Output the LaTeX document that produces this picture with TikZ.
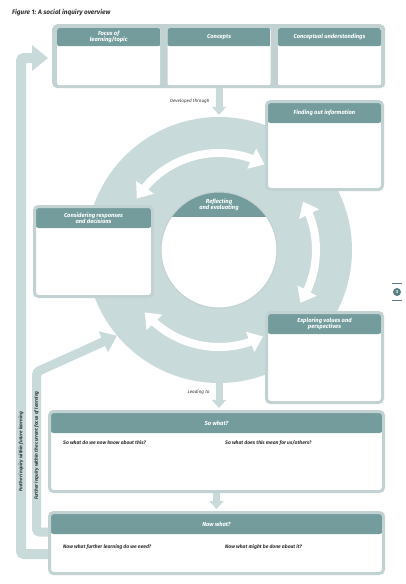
\documentclass[tikz,border=0pt]{standalone}
\usepackage{fontspec}
\setmainfont{Fira Sans}
\usepackage{tikz}
\usetikzlibrary{calc}
\usetikzlibrary{positioning}
\usetikzlibrary{arrows.meta}
\usetikzlibrary{bending}
\usetikzlibrary{backgrounds}

\definecolor{ringgrey}{HTML}{C9DADB}
\definecolor{framegrey}{HTML}{C2D1D2}
\definecolor{headteal}{HTML}{749C9D}
\definecolor{inkgrey}{HTML}{333333}
\definecolor{markteal}{HTML}{557F82}

\tikzset{
    figtitle/.style={anchor=west, text=inkgrey, inner sep=0pt,
        font=\fontsize{6.5}{7}\selectfont\bfseries\itshape},
    headtext/.style={text=white, align=center, inner sep=0pt,
        font=\fontsize{5.8}{6.4}\selectfont\bfseries\itshape},
    note/.style={text=inkgrey, inner sep=0pt,
        font=\fontsize{5}{6}\selectfont\bfseries\itshape},
    smallnote/.style={text=inkgrey, inner sep=0pt,
        font=\fontsize{4.6}{5}\selectfont\itshape},
    bartext/.style={text=inkgrey, inner sep=0pt,
        font=\fontsize{4.8}{5}\selectfont\bfseries\itshape},
    tray/.style={fill=framegrey, rounded corners=5pt, anchor=north west,
        inner sep=0pt, minimum width=333pt, minimum height=64pt},
    topbox/.style={fill=white, rounded corners=2pt, anchor=north west,
        inner sep=0pt, minimum width=103pt, minimum height=57pt,
        path picture={\fill[headteal] (path picture bounding box.north west)
            rectangle ([yshift=-18pt]path picture bounding box.north east);}},
    boxed/.style={draw=framegrey, line width=3pt, fill=white,
        rounded corners=4pt, anchor=north west, inner sep=0pt,
        path picture={\fill[headteal] (path picture bounding box.north west)
            rectangle ([yshift=-21.5pt]path picture bounding box.north east);}},
    ringdisc/.style={circle, fill=ringgrey, inner sep=0pt, minimum size=266pt},
    hubdisc/.style={circle, fill=white, draw=framegrey, line width=1pt,
        inner sep=0pt, minimum size=116pt,
        path picture={\fill[headteal] (path picture bounding box.north west)
            rectangle ([yshift=-25pt]path picture bounding box.north east);}},
    swirl/.style={draw=white, line width=8pt,
        {Triangle[width=21pt,length=14pt]}-{Triangle[width=21pt,length=14pt]}},
    flow/.style={draw=ringgrey, line width=7pt,
        -{Triangle[width=14pt,length=8pt]}, shorten >=2pt},
    outerloop/.style={draw=ringgrey, line width=10pt, rounded corners=3pt,
        -{Triangle[width=25pt,length=16pt]}, shorten >=4pt},
    innerloop/.style={draw=ringgrey, line width=9pt, rounded corners=3pt,
        -{Triangle[width=22pt,length=15pt]}},
    markline/.style={draw=markteal, line width=0.8pt},
}

\begin{document}
\begin{tikzpicture}[x=1pt, y=-1pt]

    \def\gap{7pt}
    \def\drop{18pt}

    \useasboundingbox (0,0) rectangle (406,584);

    \node[figtitle] (title) at (12,13) {Figure 1: A social inquiry overview};

    % Top row of three boxes on a grey tray
    \node[tray] (tray) at (52,24) {};
    \node[topbox] (focus) at (57,28) {};
    \node[topbox, right=\gap of focus] (concepts) {};
    \node[topbox, right=\gap of concepts] (understand) {};
    \node[headtext] (focushead) at ([yshift=-9pt]focus.north) {Focus of\\learning/topic};
    \node[headtext] (conceptshead) at ([yshift=-9pt]concepts.north) {Concepts};
    \node[headtext] (understandhead) at ([yshift=-9pt]understand.north) {Conceptual understandings};

    % The ring with the reflecting circle in its middle
    \node[ringdisc] (ring) at (219,250) {};
    \node[hubdisc] (reflect) at (ring.center) {};
    \node[headtext] (reflecthead) at ([yshift=-13pt]reflect.north) {Reflecting\\and evaluating};

    \draw[swirl] ($(ring.center)+(-148:97)$) arc (-148:-62:97);
    \draw[swirl] ($(ring.center)+(-30:97)$) arc (-30:33:97);
    \draw[swirl] ($(ring.center)+(140:97)$) arc (140:63:97);

    % Stage boxes round the ring
    \node[boxed, minimum width=116pt, minimum height=88pt] (find) at (265,100) {};
    \node[boxed, minimum width=118pt, minimum height=90pt] (consider) at (33,205) {};
    \node[boxed, minimum width=116pt, minimum height=90pt, below=120pt of find] (explore) {};
    \node[headtext] (findhead) at ([yshift=-13pt]find.north) {Finding out information};
    \node[headtext] (considerhead) at ([yshift=-13pt]consider.north) {Considering responses\\and decisions};
    \node[headtext] (explorehead) at ([yshift=-13pt]explore.north) {Exploring values and\\perspectives};

    % So what / now what
    \node[boxed, minimum width=334pt, minimum height=80pt] (sowhat) at (48,410) {};
    \node[boxed, minimum width=334pt, minimum height=61pt, below=\drop of sowhat] (nowwhat) {};
    \node[headtext] (sowhathead) at ([yshift=-13pt]sowhat.north) {So what?};
    \node[headtext] (nowwhathead) at ([yshift=-13pt]nowwhat.north) {Now what?};
    \node[note, anchor=west] (knownow) at ([xshift=15pt,yshift=-33pt]sowhat.north west) {So what do we now know about this?};
    \node[note, anchor=west] (meannow) at ([xshift=177pt,yshift=-33pt]sowhat.north west) {So what does this mean for us/others?};
    \node[note, anchor=west] (learnnext) at ([xshift=15pt,yshift=-36pt]nowwhat.north west) {Now what further learning do we need?};
    \node[note, anchor=west] (donenext) at ([xshift=177pt,yshift=-36pt]nowwhat.north west) {Now what might be done about it?};

    \node[circle, fill=markteal, text=white, inner sep=0pt, minimum size=8pt,
        font=\fontsize{4.5}{4.5}\selectfont\bfseries] (pagemark) at (397,292) {3};
    \draw[markline] (392,283) -- (402,283);
    \draw[markline] (392,300) -- (402,300);

    \begin{scope}
        \draw[flow] (tray.south -| ring.north) -- node[smallnote, left=6pt, pos=.45] {Developed through} (ring.north);
        \draw[flow] (ring.south) -- node[smallnote, left=6pt, pos=.33] {Leading to} (ring.south |- sowhat.north);
        \draw[flow] (sowhat) -- (nowwhat);
    \end{scope}

    % Loops back round the left side, behind the boxes
    \begin{scope}[on background layer]
        \coordinate (outerfoot) at (21,554);
        \coordinate (outertop) at (21,58);
        \coordinate (innerfoot) at (36.5,532);
        \coordinate (innerbend) at (36.5,372);
        \draw[outerloop] (nowwhat |- outerfoot) -- (outerfoot)
            -- node[bartext, sloped, pos=.206] {Further inquiry within future learning} (outertop)
            -- (tray.west |- outertop);
        \draw[innerloop] (nowwhat |- innerfoot) -- (innerfoot)
            -- node[bartext, sloped, pos=.54] {Further inquiry within the current focus of learning} (innerbend)
            -- (ring.220);
    \end{scope}

\end{tikzpicture}
\end{document}
